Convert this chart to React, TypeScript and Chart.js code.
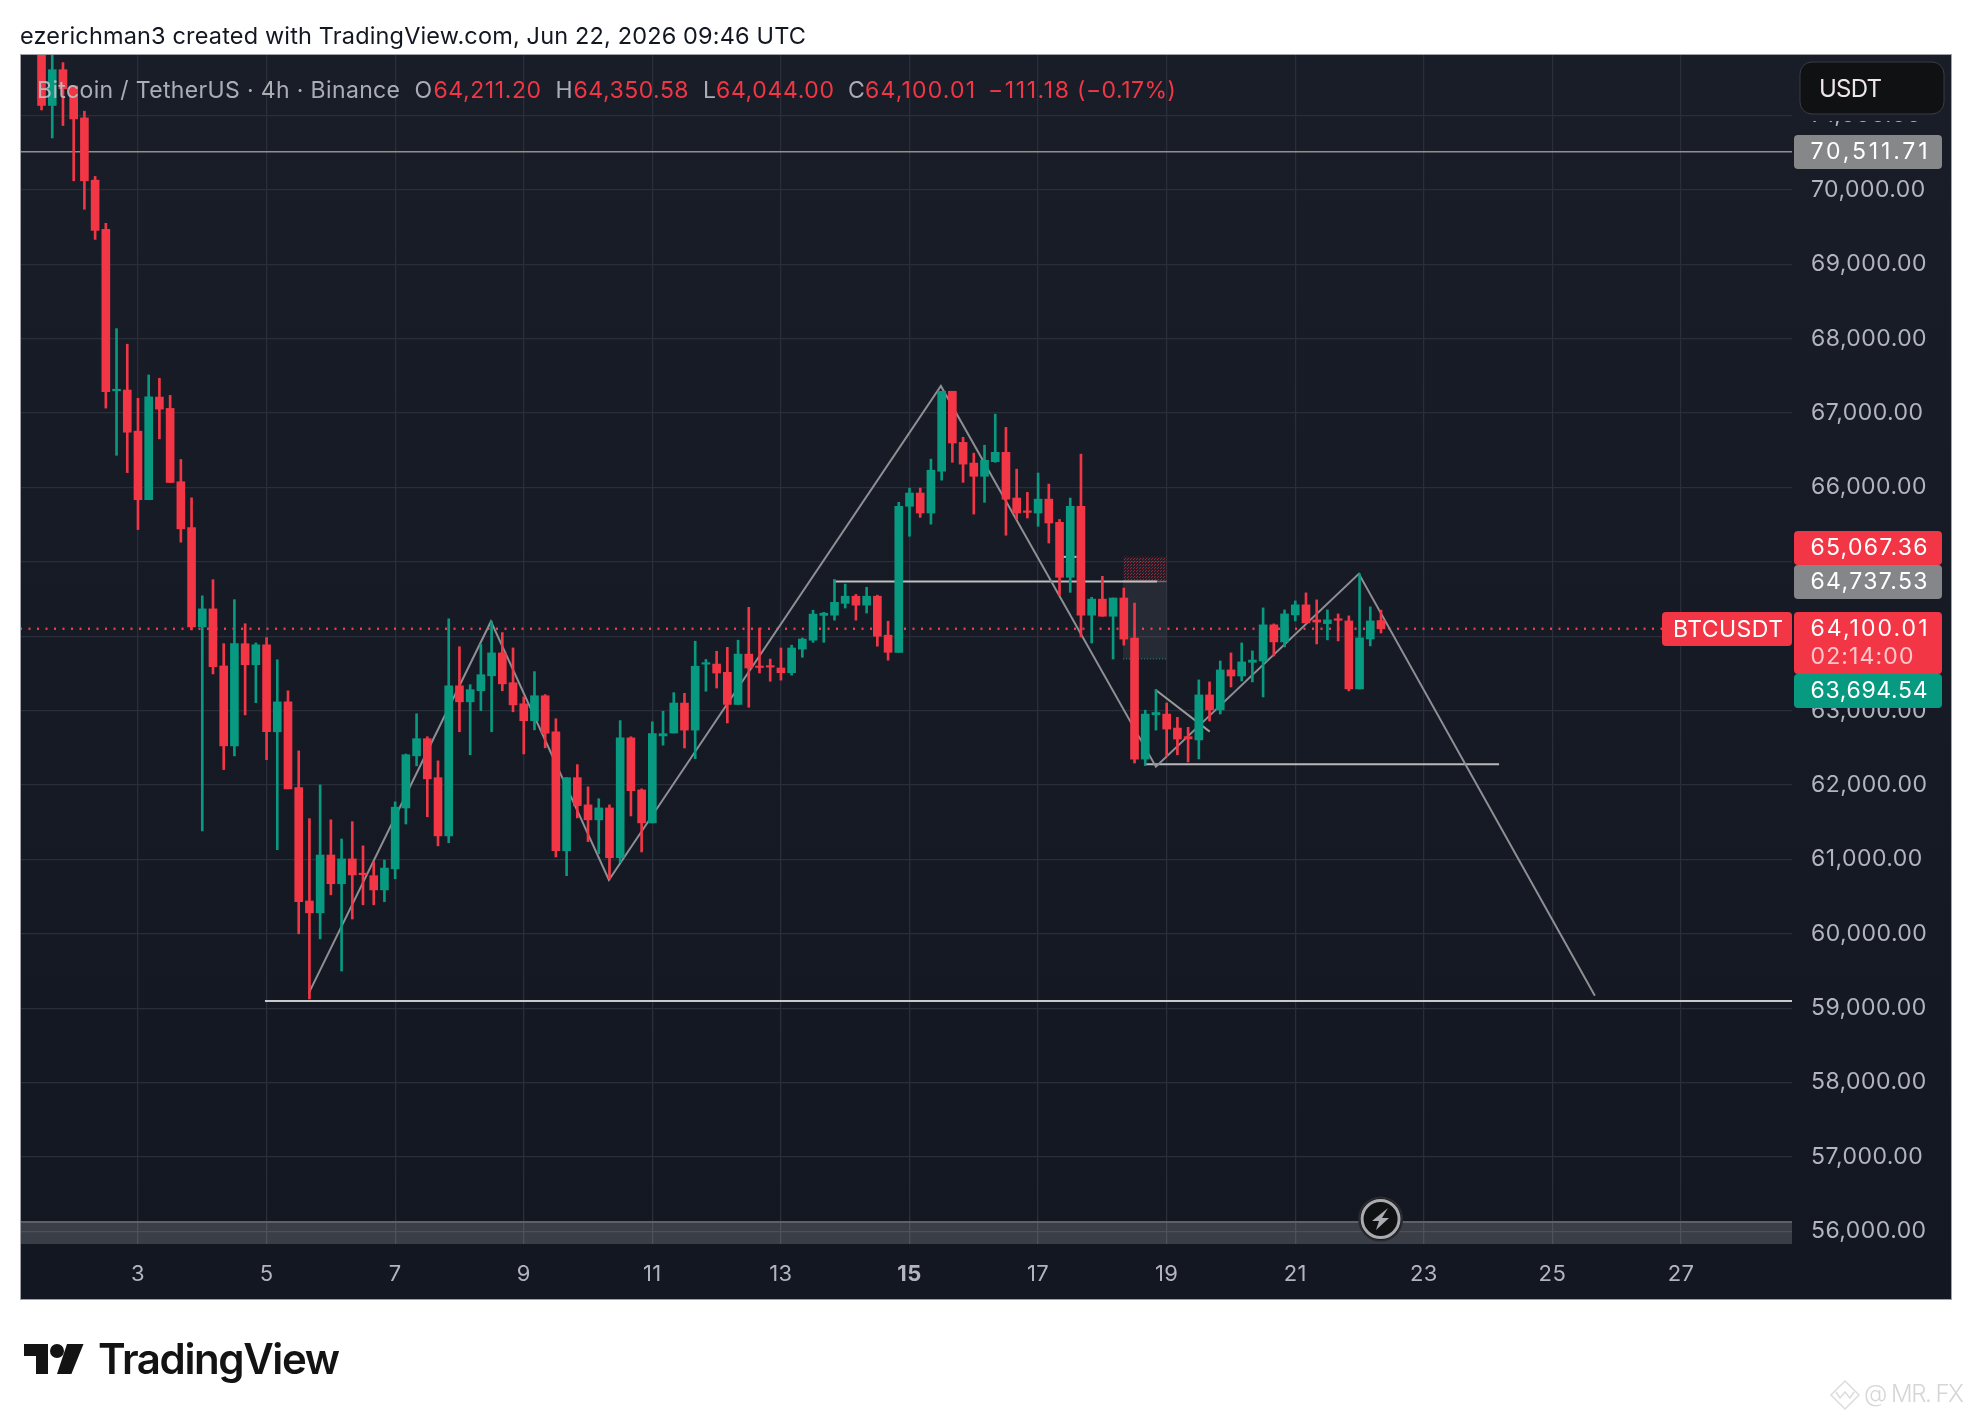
import React, { useEffect, useRef } from "react";
import { Chart, registerables } from "chart.js";

Chart.register(...registerables);

const opens = [72000,71135,71616,71396,70968,70131,69470,67300,67310,66757,65835,67215,67063,66077,65460,64126,64368,63601,62526,63900,63617,63885,62716,63118,61965,60441,60282,61059,60673,61007,60815,60781,60590,60874,61692,62392,62623,62099,61316,63334,63118,63267,63468,63776,63375,63092,62865,63200,62716,61116,62099,61733,61532,61692,61023,62634,61934,61491,62660,62699,63102,62738,63625,63626,63515,63083,63760,63600,63605,63573,63510,63827,63947,64280,64283,64442,64538,64418,64538,64014,63784,65747,65925,65656,66218,67293,66606,66328,66150,66347,66472,65858,65685,65656,65843,65531,64792,65747,64283,64499,64269,64514,63976,62349,62945,62954,62766,62650,62606,63211,63009,63547,63466,63650,63668,64153,63924,64287,64422,64220,64170,64235,64206,63292,63964,64211.2];
const highs = [72300,71819,71711,71400,71058,70181,69551,68135,67926,67198,67513,67468,67238,66376,65861,64543,64760,63900,64492,64168,63910,63982,63684,63267,62459,61548,62001,61532,61275,61507,61182,60966,60992,61774,62417,62958,62649,62325,64235,63859,63349,63890,64199,64049,63843,63185,63524,63215,62891,62100,62274,61975,61816,61733,62866,62649,61949,62850,62992,63242,63232,63933,63688,63798,63851,63947,64389,64110,63693,63842,63880,63976,64350,64322,64763,64701,64562,64658,64552,64202,65800,65992,65992,66381,67293,67293,66674,66462,66568,66986,66808,66246,65934,66194,66045,65570,65858,66448,64523,64806,64514,64648,64446,63006,63285,63102,62910,62776,63413,63386,63668,63776,63910,63803,64381,64166,64354,64475,64583,64489,64354,64300,64274,64839,64395,64350.58];
const lows = [71075,70698,70865,70122,69740,69335,67067,66432,66200,65434,65835,66653,66067,65264,64085,61383,63493,62207,62392,62943,63107,62340,61131,61949,60000,59124,59932,60524,59499,60199,60390,60390,60431,60740,61476,62258,61574,61182,61224,62716,62407,63000,62716,63267,62984,62418,62742,62500,61033,60781,61558,61239,61075,60740,60956,61584,61100,61491,62536,62699,62498,62354,63261,63304,62834,63083,63045,63506,63395,63410,63477,63717,63918,63918,64216,64379,64216,64312,63866,63678,63784,65344,65598,65507,66098,66338,66069,65642,65800,66338,65358,65574,65589,65478,65253,64552,64590,63990,63909,64269,63693,63880,62296,62262,62738,62382,62406,62310,62350,62861,62955,63318,63399,63386,63184,63735,63857,64206,64179,63897,63951,63937,63265,63292,63870,64044];
const closes = [71135,71616,71360,70955,70122,69456,67288,67320,66743,65835,67220,67053,66067,65444,64126,64368,63591,62526,63900,63617,63885,62716,63118,61949,60431,60282,61059,60673,61007,60791,60795,60590,60884,61702,62407,62623,62083,61316,63334,63118,63282,63483,63776,63360,63077,62865,63200,62696,61116,62099,61723,61532,61692,61023,62634,61924,61491,62690,62690,63102,62738,63597,63645,63506,63083,63760,63573,63580,63585,63510,63842,63962,64298,64310,64456,64538,64418,64538,64000,63784,65747,65925,65656,66232,67293,66597,66314,66150,66366,66472,65843,65656,65665,65843,65522,64792,65747,64283,64499,64269,64514,63962,62349,62954,62975,62752,62618,62620,63211,63009,63547,63466,63655,63680,64153,63924,64300,64422,64179,64190,64220,64215,63292,63978,64206,64100.01];

const firstDay = 1.5;
const barDays = opens.map((_, i) => firstDay + i / 6);

const dayTicks = [3, 5, 7, 9, 11, 13, 15, 17, 19, 21, 23, 25, 27];
const priceTicks = [56000,57000,58000,59000,60000,61000,62000,63000,64000,65000,66000,67000,68000,69000,70000,71000];
const xMin = 1.165;
const xMax = 28.726;
const yMin = 55830;
const yMax = 71827;

const zigzagDays = [5.659, 8.49, 10.325, 15.488, 18.832, 21.989, 25.66];
const zigzagPrices = [59206, 64199, 60724, 67365, 62247, 64839, 59168];
const lastPrice = 64100.01;
const stopPrice = 65067.36;
const entryPrice = 64737.53;
const targetPrice = 63694.54;
const resistancePrice = 70511.71;
const supportPrice = 59098;
const neckPrice = 62278;
const entryLineDays = [13.82, 18.85];
const neckLineDays = [18.66, 24.17];
const supportStartDay = 4.975;
const stopStubDays = [17.39, 17.6];
const flagDays = [18.83, 19.67];
const flagPrices = [63278, 62718];
const positionDays = [18.32, 19.0];
const bandTop = 56125;

const RED = "#f23645";
const GREEN = "#089981";
const TICK = "#b2b5be";
const FONT = "Inter";

function put(ctx: any, s: string, x: number, y: number, font: string, color: string, width?: number) {
  ctx.font = font;
  ctx.fillStyle = color;
  ctx.textBaseline = "middle";
  ctx.textAlign = "left";
  ctx.letterSpacing = "0px";
  if (width) {
    const m = ctx.measureText(s).width;
    ctx.letterSpacing = (width - m) / Math.max(1, s.length - 1) + "px";
  }
  ctx.fillText(s, x, y);
  ctx.letterSpacing = "0px";
}

function tag(ctx: any, x: number, y: number, w: number, h: number, color: string, r = 4) {
  ctx.fillStyle = color;
  ctx.beginPath();
  ctx.roundRect(x, y, w, h, r);
  ctx.fill();
}

function poly(ctx: any, pts: number[][], color: string) {
  ctx.fillStyle = color;
  ctx.beginPath();
  pts.forEach((p, i) => (i ? ctx.lineTo(p[0], p[1]) : ctx.moveTo(p[0], p[1])));
  ctx.closePath();
  ctx.fill();
}

const fmt = (v: number) => v.toLocaleString("en-US", { minimumFractionDigits: 2, maximumFractionDigits: 2 });

const frame = {
  id: "frame",
  beforeDraw(chart: any) {
    const ctx = chart.ctx;
    ctx.save();
    const g = ctx.createLinearGradient(0, 54, 0, 1300);
    g.addColorStop(0, "#191d28");
    g.addColorStop(1, "#131722");
    ctx.fillStyle = g;
    ctx.fillRect(20, 54, 1932, 1246);
    ctx.restore();
    ctx.letterSpacing = "0.45px";
  },
  afterDraw(chart: any) {
    const ctx = chart.ctx;
    ctx.save();
    ctx.strokeStyle = "#a0a2a8";
    ctx.lineWidth = 1;
    ctx.strokeRect(20.5, 54.5, 1931, 1245);

    put(ctx, "ezerichman3 created with TradingView.com, Jun 22, 2026 09:46 UTC", 20, 36.5, `23.5px ${FONT}`, "#131722", 786);

    const lg = "rgba(190,193,200,0.88)";
    const f = `23px ${FONT}`;
    const ly = 91;
    put(ctx, "Bitcoin / TetherUS · 4h · Binance", 37, ly, f, lg, 363);
    put(ctx, "O", 414.6, ly, f, lg);
    put(ctx, fmt(opens[opens.length - 1]), 433.5, ly, f, RED, 107.5);
    put(ctx, "H", 555.5, ly, f, lg);
    put(ctx, fmt(highs[highs.length - 1]), 573.6, ly, f, RED, 115);
    put(ctx, "L", 703, ly, f, lg);
    put(ctx, fmt(lows[lows.length - 1]), 716, ly, f, RED, 118);
    put(ctx, "C", 848, ly, f, lg);
    put(ctx, fmt(closes[closes.length - 1]), 865, ly, f, RED, 110);
    put(ctx, "−111.18", 988, ly, f, RED, 81);
    put(ctx, "(−0.17%)", 1077, ly, f, RED, 99);

    // the price scale is masked behind the currency button
    ctx.fillStyle = "#191d28";
    ctx.fillRect(1794, 56, 156, 65);
    tag(ctx, 1800, 62, 144, 52, "#101113", 12);
    ctx.strokeStyle = "#3a3d45";
    ctx.lineWidth = 1;
    ctx.stroke();
    put(ctx, "USDT", 1819, 90, `24px ${FONT}`, "#efe7e7", 63);

    const pf = `23px ${FONT}`;
    const pw = 117;
    const px = 1810.5;
    tag(ctx, 1794, 135, 148, 34, "#868789");
    put(ctx, fmt(resistancePrice), px, 152.5, pf, "#ffffff", pw);
    tag(ctx, 1794, 531, 148, 34, RED);
    put(ctx, fmt(stopPrice), px, 548.5, pf, "#ffffff", pw);
    tag(ctx, 1794, 565, 148, 34, "#848689");
    put(ctx, fmt(entryPrice), px, 582.5, pf, "#ffffff", pw);
    tag(ctx, 1794, 612, 148, 62, RED);
    put(ctx, fmt(lastPrice), px, 629, pf, "#ffffff", pw);
    put(ctx, "02:14:00", px, 657, pf, "rgba(255,255,255,0.72)", 103);
    tag(ctx, 1794, 674, 148, 34, GREEN);
    put(ctx, fmt(targetPrice), px, 691.5, pf, "#ffffff", pw);
    tag(ctx, 1662, 612, 130, 34, RED);
    put(ctx, "BTCUSDT", 1673, 630, pf, "#ffffff", 110);

    // replay button
    ctx.beginPath();
    ctx.arc(1380.6, 1219, 21.5, 0, Math.PI * 2);
    ctx.fillStyle = "#101113";
    ctx.fill();
    ctx.strokeStyle = "#2a2a2e";
    ctx.lineWidth = 2;
    ctx.stroke();
    ctx.beginPath();
    ctx.arc(1380.6, 1219, 18.5, 0, Math.PI * 2);
    ctx.strokeStyle = "#a9abb0";
    ctx.lineWidth = 3;
    ctx.stroke();
    poly(ctx, [[1388, 1208], [1372, 1221], [1379, 1221], [1376, 1230], [1389, 1218], [1382, 1218]], "#a9abb0");

    // logo
    poly(ctx, [[24, 1344], [48, 1344], [48, 1374], [36, 1374], [36, 1356], [24, 1356]], "#131313");
    ctx.beginPath();
    ctx.arc(57, 1351, 7, 0, Math.PI * 2);
    ctx.fillStyle = "#131313";
    ctx.fill();
    poly(ctx, [[67, 1344], [83.5, 1344], [71.4, 1374], [57, 1374]], "#131313");
    put(ctx, "TradingView", 98, 1361, `600 42px ${FONT}`, "#131313", 242);

    // watermark
    ctx.strokeStyle = "#dcdcdc";
    ctx.lineWidth = 1.5;
    ctx.beginPath();
    ctx.moveTo(1845, 1381);
    ctx.lineTo(1859, 1395);
    ctx.lineTo(1845, 1409);
    ctx.lineTo(1831, 1395);
    ctx.closePath();
    ctx.moveTo(1836, 1392);
    ctx.lineTo(1840, 1398);
    ctx.lineTo(1845, 1392);
    ctx.lineTo(1850, 1398);
    ctx.lineTo(1854, 1392);
    ctx.stroke();
    put(ctx, "@ MR. FX", 1864, 1395, `300 24px ${FONT}`, "#d6d6d6", 100);
    ctx.restore();
  },
};

function lineSet(data: any[], color: string, width: number, extra: any = {}) {
  return {
    type: "line",
    data,
    borderColor: color,
    borderWidth: width,
    pointRadius: 0,
    tension: 0,
    fill: false,
    order: 2,
    ...extra,
  };
}

export default function App() {
  const ref = useRef<HTMLCanvasElement | null>(null);
  useEffect(() => {
    const canvas = ref.current!;
    const dot = document.createElement("canvas");
    dot.width = 3;
    dot.height = 3;
    const d = dot.getContext("2d")!;
    d.fillStyle = "rgba(242,54,69,0.07)";
    d.fillRect(0, 0, 3, 3);
    d.fillStyle = "rgba(242,54,69,0.5)";
    d.fillRect(0, 0, 1, 1);
    d.fillRect(2, 1, 1, 1);
    const pattern = canvas.getContext("2d")!.createPattern(dot, "repeat");

    const colors = opens.map((o, i) => (closes[i] >= o ? GREEN : RED));
    const flat = (days: number[], price: number) => days.map((x) => ({ x, y: price }));

    const chart = new Chart(canvas, {
      type: "bar",
      data: {
        datasets: [
          {
            data: barDays.map((x, i) => ({ x, y: [opens[i], closes[i]] })),
            backgroundColor: colors,
            barThickness: 8,
            grouped: false,
            borderWidth: 0,
            order: 0,
          },
          {
            data: barDays.map((x, i) => ({ x, y: [lows[i], highs[i]] })),
            backgroundColor: colors,
            barThickness: 2,
            grouped: false,
            borderWidth: 0,
            order: 1,
          },
          lineSet(zigzagDays.map((x, i) => ({ x, y: zigzagPrices[i] })), "#8e8e93", 2),
          lineSet(flat([xMin, xMax], resistancePrice), "#8f8f8f", 1.5),
          lineSet(flat([supportStartDay, xMax], supportPrice), "#c9c9c9", 2),
          lineSet(flat(entryLineDays, entryPrice), "#c0c0c0", 2),
          lineSet(flat(neckLineDays, neckPrice), "#b8b8b8", 2),
          lineSet(flat(stopStubDays, stopPrice), "#c0c0c0", 2),
          lineSet(flagDays.map((x, i) => ({ x, y: flagPrices[i] })), "#9a9a9a", 2),
          lineSet(flat(positionDays, entryPrice), "#6b6d72", 1.5),
          lineSet(flat(positionDays, targetPrice), GREEN, 1, { borderDash: [1, 2] }),
          lineSet(flat([xMin, xMax], lastPrice), RED, 2.4, { borderDash: [2, 6.5] }),
          lineSet(flat(positionDays, entryPrice), "rgba(0,0,0,0)", 0, {
            fill: { value: targetPrice },
            backgroundColor: "rgba(255,255,255,0.07)",
            order: 3,
          }),
          lineSet(flat(positionDays, stopPrice), "rgba(0,0,0,0)", 0, {
            fill: { value: entryPrice },
            backgroundColor: pattern,
            order: 3,
          }),
          lineSet(flat([xMin, xMax], bandTop), "#5f5f66", 2, {
            fill: { value: yMin },
            backgroundColor: "rgba(255,255,255,0.17)",
            order: 3,
          }),
        ] as any,
      },
      options: {
        responsive: false,
        animation: false,
        devicePixelRatio: 1,
        layout: { padding: { left: 20, right: 20, top: 54, bottom: 120 } },
        plugins: { legend: { display: false }, tooltip: { enabled: false }, title: { display: false } },
        events: [],
        scales: {
          x: {
            type: "linear",
            offset: false,
            min: xMin,
            max: xMax,
            grid: { offset: false, color: "#2a2e39", lineWidth: 1.3, drawTicks: false },
            border: { display: false },
            afterBuildTicks: (s: any) => {
              s.ticks = dayTicks.map((value) => ({ value }));
            },
            afterFit: (s: any) => {
              s.height = 56;
            },
            ticks: {
              autoSkip: false,
              maxRotation: 0,
              padding: 17,
              color: TICK,
              font: (c: any) => ({ family: FONT, size: 22, weight: c.tick && c.tick.value === 15 ? "700" : "400" }),
              callback: (v: any) => String(v),
            },
          },
          y: {
            type: "linear",
            position: "right",
            min: yMin,
            max: yMax,
            grid: { color: "#2a2e39", lineWidth: 1.3, drawTicks: false },
            border: { display: false },
            afterBuildTicks: (s: any) => {
              s.ticks = priceTicks.map((value) => ({ value }));
            },
            afterFit: (s: any) => {
              s.width = 160;
            },
            ticks: {
              autoSkip: false,
              padding: 19,
              color: TICK,
              font: { family: FONT, size: 23 },
              callback: (v: any) => fmt(Number(v)),
            },
          },
        },
      } as any,
      plugins: [frame],
    });
    return () => chart.destroy();
  }, []);
  return (
    <canvas
      ref={ref}
      width={1972}
      height={1420}
      style={{ position: "absolute", left: 0, top: 0, display: "block" }}
    />
  );
}
